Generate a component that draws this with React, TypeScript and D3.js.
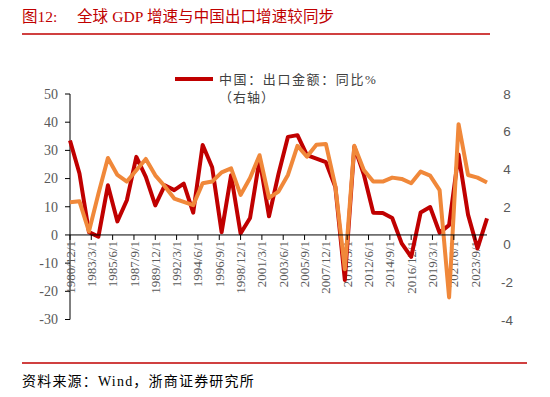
import React from "react";
import * as d3 from "d3";

const years: number[] = d3.range(1980, 2025);

// 中国:出口金额:同比% (left axis)
const exportGrowth: number[] = [
  33.5, 21.8, 1.0, -0.6, 17.6, 4.8, 12.3, 27.7, 20.6, 10.5,
  17.6, 15.9, 18.2, 7.9, 31.9, 24.0, 1.0, 21.2, 0.5, 6.0,
  26.8, 6.6, 21.6, 34.8, 35.4, 28.3, 27.1, 25.8, 17.0, -16.0,
  31.3, 21.5, 7.9, 7.8, 6.0, -3.0, -7.8, 8.0, 9.9, 0.8,
  3.5, 28.5, 7.2, -4.8, 5.9,
];

// 全球GDP增速 % (right axis)
const gdpGrowth: number[] = [
  2.25, 2.3, 0.7, 2.7, 4.6, 3.7, 3.35, 3.95, 4.55, 3.68,
  3.1, 2.45, 2.27, 2.1, 3.26, 3.35, 3.84, 4.05, 2.64, 3.54,
  4.75, 2.48, 2.82, 3.7, 5.25, 4.67, 5.3, 5.35, 3.1, -1.3,
  5.25, 3.97, 3.35, 3.35, 3.56, 3.49, 3.26, 3.88, 3.67, 2.9,
  -2.8, 6.4, 3.7, 3.56, 3.3,
];

const leftTicks: number[] = [50, 40, 30, 20, 10, 0, -10, -20, -30];
const rightTicks: number[] = [8, 6, 4, 2, 0, -2, -4];

const titleLabel = "图12:";
const titleText = "全球 GDP 增速与中国出口增速较同步";
const legendLine1 = "中国：出口金额：同比%";
const legendLine2 = "（右轴）";
const sourceText = "资料来源：Wind，浙商证券研究所";

const RED = "#C00000";
const ORANGE = "#F0883A";
const GRAY = "#595959";
const SERIF = "'Liberation Serif', 'Noto Sans CJK SC', serif";
const SANS = "'Liberation Sans', Arial, sans-serif";

export default function App() {
  const W = 550;
  const H = 397;
  const parse = (y: number) => new Date(y, 11, 1);
  const x = d3.scaleTime().domain([parse(1980), parse(2024)]).range([70, 487]);
  const yL = d3.scaleLinear().domain([-30, 50]).range([319.5, 94]);
  const yR = d3.scaleLinear().domain([-4, 8]).range([320, 94]);

  const tickDates: Date[] = [];
  for (let m = 0; m <= 43 * 12; m += 27) {
    tickDates.push(new Date(1980, 11 + m, 1));
  }
  const fmt = (d: Date) => `${d.getFullYear()}/${d.getMonth() + 1}/1`;

  const lineL = d3
    .line<number>()
    .x((_, i) => x(parse(years[i])))
    .y((v) => yL(v));
  const lineR = d3
    .line<number>()
    .x((_, i) => x(parse(years[i])))
    .y((v) => yR(v));

  const zeroY = yL(0);

  return (
    <svg width={W} height={H} style={{ display: "block", position: "absolute", left: 0, top: 0 }}>
      <rect width={W} height={H} fill="#fff" />
      {/* title */}
      <text x={22} y={22} fill={RED} fontSize={15.5} fontFamily={SERIF}>
        {titleLabel}
      </text>
      <text x={77} y={22} fill={RED} fontSize={15.5} fontFamily={SERIF} letterSpacing={0.1}>
        {titleText}
      </text>
      <line x1={22} x2={490} y1={34} y2={34} stroke={RED} strokeWidth={1.5} />

      {/* left axis */}
      <line x1={70} x2={70} y1={yL(50)} y2={yL(-30)} stroke="#000" strokeWidth={1} />
      {leftTicks.map((t) => (
        <g key={"l" + t}>
          <line x1={65} x2={70} y1={yL(t)} y2={yL(t)} stroke="#000" />
          <text
            x={58}
            y={yL(t)}
            dy="0.35em"
            textAnchor="end"
            fontSize={14}
            fill={GRAY}
            fontFamily={SERIF}
          >
            {t}
          </text>
        </g>
      ))}

      {/* right axis labels */}
      {rightTicks.map((t) => (
        <text
          key={"r" + t}
          x={507}
          y={yR(t)}
          dy="0.35em"
          textAnchor="middle"
          fontSize={13.5}
          fill={GRAY}
          fontFamily={SANS}
        >
          {t}
        </text>
      ))}

      {/* x labels */}
      {tickDates.map((d, i) => (
        <text
          key={"x" + i}
          transform={`translate(${x(d)},${zeroY + 6}) rotate(-90)`}
          dy="0.35em"
          textAnchor="end"
          fontSize={13}
          fill={GRAY}
          fontFamily={SERIF}
        >
          {fmt(d)}
        </text>
      ))}

      {/* series */}
      <path d={lineL(exportGrowth) || ""} fill="none" stroke={RED} strokeWidth={4} strokeLinejoin="round" />
      <path d={lineR(gdpGrowth) || ""} fill="none" stroke={ORANGE} strokeWidth={4} strokeLinejoin="round" />

      {/* zero line & x ticks */}
      <line x1={70} x2={487} y1={zeroY} y2={zeroY} stroke="#000" strokeWidth={1} />
      {tickDates.map((d, i) => (
        <line key={"xt" + i} x1={x(d)} x2={x(d)} y1={zeroY} y2={zeroY + 5} stroke="#000" />
      ))}

      {/* legend */}
      <line x1={175} x2={213} y1={79} y2={79} stroke={RED} strokeWidth={4} />
      <text x={219} y={84} fontSize={13} fill="#404040" fontFamily={SERIF} letterSpacing={1.6}>
        {legendLine1}
      </text>
      <text x={219} y={102} fontSize={13} fill="#404040" fontFamily={SERIF} letterSpacing={1}>
        {legendLine2}
      </text>

      {/* source */}
      <line x1={22} x2={527} y1={363} y2={363} stroke={RED} strokeWidth={1.5} />
      <text x={22} y={386} fontSize={14} fill="#000" fontFamily={SERIF} letterSpacing={1.2}>
        {sourceText}
      </text>
    </svg>
  );
}
